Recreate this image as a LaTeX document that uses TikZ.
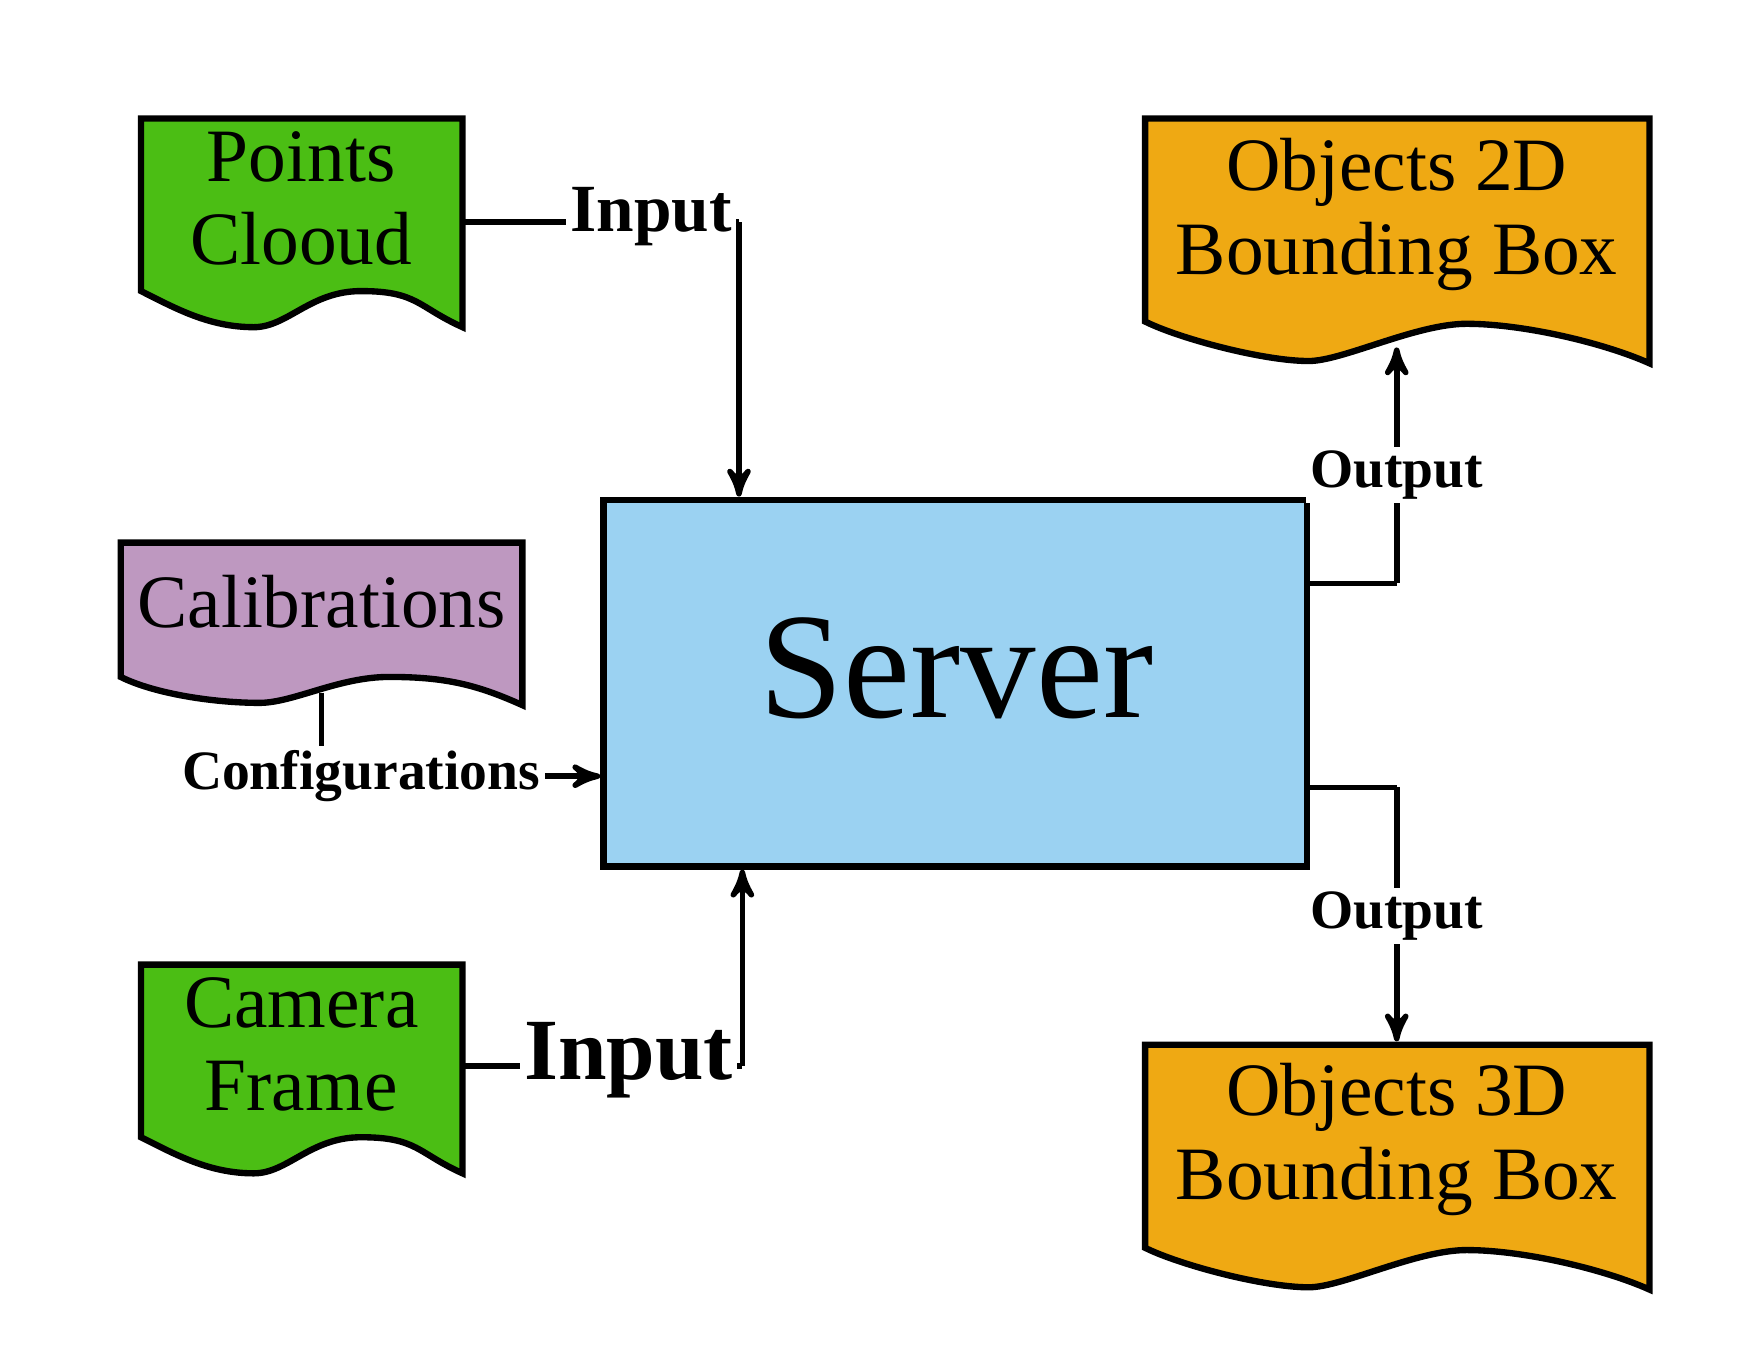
\documentclass[tikz,border=0pt]{standalone}
\usepackage{fontspec}
\setmainfont{Liberation Serif}
\usepackage{tikz}
\usetikzlibrary{arrows}
\usetikzlibrary{positioning}
\definecolor{docgreen}{RGB}{75, 190, 20}
\definecolor{docpurple}{RGB}{190, 152, 192}
\definecolor{docorange}{RGB}{239, 169, 19}
\definecolor{serverblue}{RGB}{155, 210, 242}
\tikzset{
    arrow/.style={->,>=stealth', line width=1.4pt},
    wire/.style={line width=1.4pt},
    doc/.style={draw=black, line width=1.6pt, line join=miter},
    label/.style={fill=white, inner sep=1pt, font=\bfseries},
}
% document shape: left, top, right, left bottom, trough x, trough y, crest x, crest y, right bottom
\newcommand{\docpath}[9]{%
  (#1,#2) -- (#3,#2) -- (#3,#9)
  .. controls ({#3-40},{#9-18}) and ({#7+50},#8) .. (#7,#8)
  .. controls ({#7-45},#8) and ({#5+30},#6) .. (#5,#6)
  .. controls ({#5-40},#6) and ({#1+30},{#4+15}) .. (#1,#4) -- cycle}

\begin{document}
\begin{tikzpicture}[x=0.01cm, y=-0.01cm]
  \useasboundingbox (0,0) rectangle (1560,1206);

  % documents
  \filldraw[doc, fill=docgreen] \docpath{125}{105}{410}{258}{225}{290}{320}{258}{290};
  \filldraw[doc, fill=docpurple] \docpath{107}{481}{463}{600}{230}{623}{345}{600}{625};
  \filldraw[doc, fill=docgreen] \docpath{125}{855}{410}{1008}{225}{1040}{320}{1008}{1040};
  \filldraw[doc, fill=docorange] \docpath{1015}{105}{1462}{285}{1160}{320}{1300}{287}{322};
  \filldraw[doc, fill=docorange] \docpath{1015}{926}{1462}{1106}{1160}{1141}{1300}{1108}{1143};

  \node[align=center, font=\fontsize{19}{21}\selectfont] (points) at (267,176) {Points\\Clooud};
  \node[font=\fontsize{19}{21}\selectfont] (calib) at (285,533) {Calibrations};
  \node[align=center, font=\fontsize{19}{21}\selectfont] (camera) at (267,926) {Camera\\Frame};
  \node[align=center, font=\fontsize{19}{21}\selectfont] (obj2d) at (1238,190) {Objects 2D\\Bounding Box};
  \node[align=center, font=\fontsize{19}{21}\selectfont] (obj3d) at (1238,1010) {Objects 3D\\Bounding Box};

  % server
  \node[draw, line width=1.6pt, fill=serverblue, minimum width=6.23cm, minimum height=3.25cm,
        font=\fontsize{38}{40}\selectfont] (server) at (846.5,605.5) {};
  \node[font=\fontsize{38}{40}\selectfont] (servertext) at (848,592) {Server};

  \coordinate (pc) at (410,197);
  \coordinate (cf) at (410,945);
  \coordinate (cb) at (285,614);
  \coordinate (o2) at (1238,308);
  \coordinate (o3) at (1238,923);

  % inputs
  \draw[wire] (pc) -- (655,197);
  \draw[arrow] (655,197) -- (server.north -| 655,0);
  \node[label, font=\bfseries\fontsize{17}{19}\selectfont] (in1) at (577,192) {Input};
  \draw[wire] (cf) -- (658,945);
  \draw[arrow] (658,945) -- (server.south -| 658,0);
  \node[label, font=\bfseries\fontsize{22}{24}\selectfont] (in2) at (557,940) {Input};

  % configurations
  \node[label, font=\bfseries\fontsize{14}{16}\selectfont] (conf) at (320,688) {Configurations};
  \draw[wire] (cb) -- (conf.north -| cb);
  \draw[arrow] (conf.east) -- (conf.east -| server.west);

  % outputs
  \draw[wire] (server.east |- 0,517) -- (1238,517);
  \draw[arrow] (1238,517) -- (o2);
  \node[label, font=\bfseries\fontsize{14}{16}\selectfont] (out1) at (1238,421) {Output};
  \draw[wire] (server.east |- 0,698) -- (1238,698);
  \draw[arrow] (1238,698) -- (o3);
  \node[label, font=\bfseries\fontsize{14}{16}\selectfont] (out2) at (1238,812) {Output};
\end{tikzpicture}
\end{document}
